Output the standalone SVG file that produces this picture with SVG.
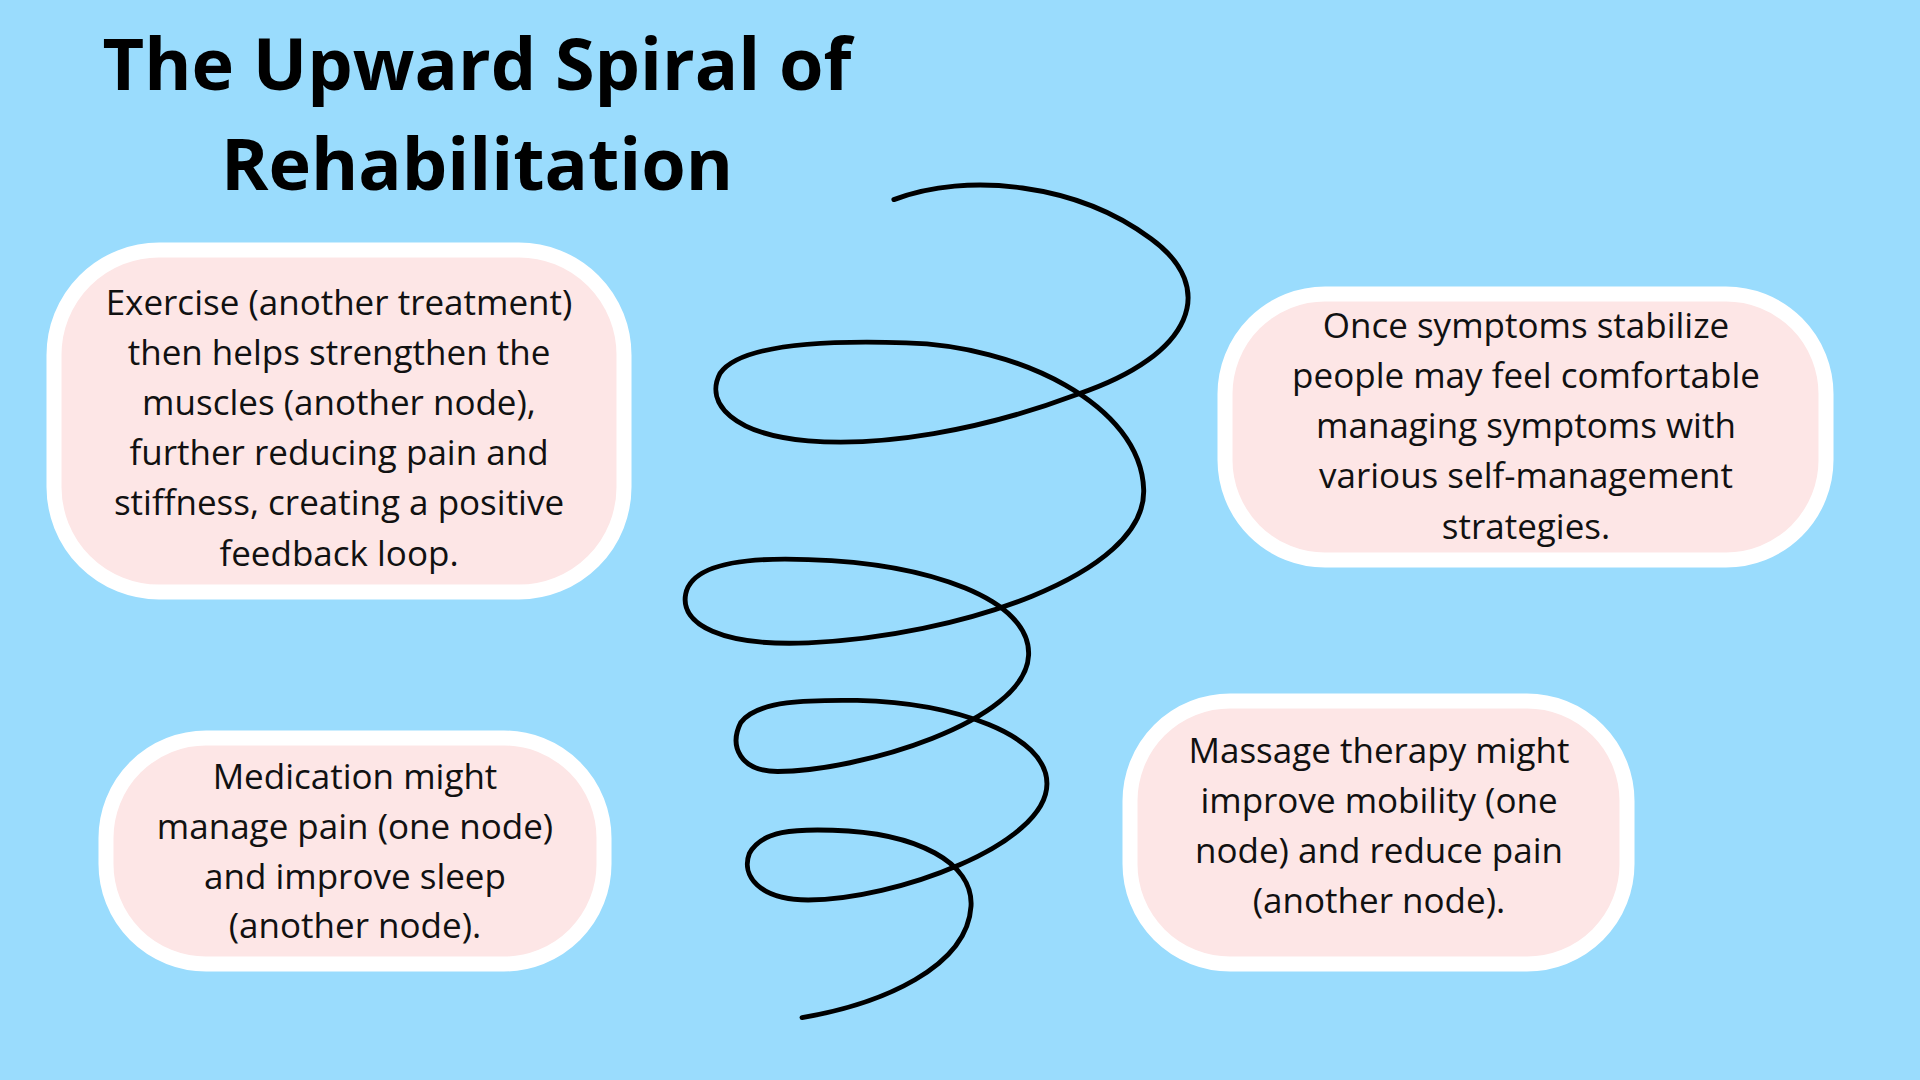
<svg xmlns="http://www.w3.org/2000/svg" width="1920" height="1080" viewBox="0 0 1920 1080">
<style>
.box{fill:#fde6e6;stroke:#ffffff;stroke-width:15}
.t{font-family:"Open Sans","Liberation Sans",sans-serif;font-size:35px;fill:#111;text-anchor:middle}
.title{font-family:"Open Sans","Liberation Sans",sans-serif;font-weight:700;font-size:72px;fill:#000;text-anchor:middle}
</style>
<rect width="1920" height="1080" fill="#9adcfd"/>
<g id="title"><text class="title" x="477" y="90">The Upward Spiral of</text><text class="title" x="477" y="190">Rehabilitation</text></g>
<g id="connectors">
<path transform="scale(1.2245)" fill="none" stroke="#000" stroke-width="4" stroke-linecap="round" d="M730,163 C790,140 880,150 940,195 C995,235 975,290 880,322 C800,352 720,365 660,360 C600,355 575,330 588,305 C605,280 680,278 740,280 C830,282 932,330 934,400 C936,470 780,520 660,525 C590,528 555,510 560,485 C565,460 610,455 660,457 C760,460 842,490 840,535 C838,590 700,630 635,630 C605,630 595,610 605,590 C620,570 670,572 700,572 C780,574 855,600 855,640 C855,690 730,735 660,735 C620,735 605,715 612,697 C622,678 650,677 680,678 C750,680 795,705 793,740 C790,790 720,820 655,831"/>
</g>
<g id="exercise"><rect class="box" x="54" y="250" width="570" height="342" rx="105"/>
<text class="t"><tspan x="339" y="315">Exercise (another treatment)</tspan><tspan x="339" y="365">then helps strengthen the</tspan><tspan x="339" y="415">muscles (another node),</tspan><tspan x="339" y="465">further reducing pain and</tspan><tspan x="339" y="515">stiffness, creating a positive</tspan><tspan x="339" y="566">feedback loop.</tspan></text></g>
<g id="once"><rect class="box" x="1225" y="294" width="601" height="266" rx="100"/>
<text class="t"><tspan x="1526" y="338">Once symptoms stabilize</tspan><tspan x="1526" y="388">people may feel comfortable</tspan><tspan x="1526" y="438">managing symptoms with</tspan><tspan x="1526" y="488">various self-management</tspan><tspan x="1526" y="539">strategies.</tspan></text></g>
<g id="medication"><rect class="box" x="106" y="738" width="498" height="226" rx="100"/>
<text class="t"><tspan x="355" y="789">Medication might</tspan><tspan x="355" y="839">manage pain (one node)</tspan><tspan x="355" y="889">and improve sleep</tspan><tspan x="355" y="938">(another node).</tspan></text></g>
<g id="massage"><rect class="box" x="1130" y="701" width="497" height="263" rx="100"/>
<text class="t"><tspan x="1379" y="763">Massage therapy might</tspan><tspan x="1379" y="813">improve mobility (one</tspan><tspan x="1379" y="863">node) and reduce pain</tspan><tspan x="1379" y="913">(another node).</tspan></text></g>
</svg>
